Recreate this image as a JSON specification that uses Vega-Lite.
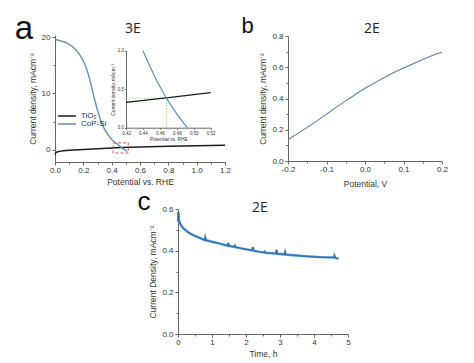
{
  "$schema": "https://vega.github.io/schema/vega-lite/v6.json",
  "width": 474,
  "height": 363,
  "autosize": "none",
  "padding": 0,
  "background": "white",
  "config": {
    "view": {"stroke": null},
    "axis": {
      "grid": false,
      "labelFont": "Liberation Sans",
      "labelFontSize": 8,
      "labelColor": "#333333",
      "titleFont": "Liberation Sans",
      "titleFontSize": 8.5,
      "titleFontWeight": "normal",
      "titleColor": "#333333",
      "domainColor": "#666666",
      "tickColor": "#666666",
      "tickSize": 3,
      "labelPadding": 2,
      "titlePadding": 4,
      "labelFlush": false,
      "labelOverlap": false
    }
  },
  "datasets": {
    "sweepA": [
      {"series": "TiO₂", "x": 0.0, "y": -0.9},
      {"series": "TiO₂", "x": 0.005, "y": -0.6},
      {"series": "TiO₂", "x": 0.015, "y": -0.42},
      {"series": "TiO₂", "x": 0.03, "y": -0.3},
      {"series": "TiO₂", "x": 0.06, "y": -0.2},
      {"series": "TiO₂", "x": 0.1, "y": -0.12},
      {"series": "TiO₂", "x": 0.2, "y": 0.03},
      {"series": "TiO₂", "x": 0.3, "y": 0.16},
      {"series": "TiO₂", "x": 0.4, "y": 0.28},
      {"series": "TiO₂", "x": 0.47, "y": 0.37},
      {"series": "TiO₂", "x": 0.6, "y": 0.47},
      {"series": "TiO₂", "x": 0.8, "y": 0.6},
      {"series": "TiO₂", "x": 1.0, "y": 0.7},
      {"series": "TiO₂", "x": 1.2, "y": 0.78},
      {"series": "CoP-Si", "x": 0.0, "y": 19.6},
      {"series": "CoP-Si", "x": 0.03, "y": 19.45},
      {"series": "CoP-Si", "x": 0.06, "y": 19.2},
      {"series": "CoP-Si", "x": 0.09, "y": 18.9},
      {"series": "CoP-Si", "x": 0.12, "y": 18.4},
      {"series": "CoP-Si", "x": 0.15, "y": 17.7},
      {"series": "CoP-Si", "x": 0.18, "y": 16.7},
      {"series": "CoP-Si", "x": 0.2, "y": 15.8},
      {"series": "CoP-Si", "x": 0.22, "y": 14.6},
      {"series": "CoP-Si", "x": 0.24, "y": 13.0},
      {"series": "CoP-Si", "x": 0.26, "y": 11.0},
      {"series": "CoP-Si", "x": 0.28, "y": 8.9},
      {"series": "CoP-Si", "x": 0.3, "y": 7.0},
      {"series": "CoP-Si", "x": 0.32, "y": 5.4},
      {"series": "CoP-Si", "x": 0.34, "y": 4.1},
      {"series": "CoP-Si", "x": 0.36, "y": 3.2},
      {"series": "CoP-Si", "x": 0.38, "y": 2.4},
      {"series": "CoP-Si", "x": 0.4, "y": 1.8},
      {"series": "CoP-Si", "x": 0.42, "y": 1.35},
      {"series": "CoP-Si", "x": 0.44, "y": 1.0},
      {"series": "CoP-Si", "x": 0.46, "y": 0.53},
      {"series": "CoP-Si", "x": 0.48, "y": 0.18},
      {"series": "CoP-Si", "x": 0.5, "y": -0.15},
      {"series": "CoP-Si", "x": 0.51, "y": -0.3}
    ],
    "zoomA": [
      {"series": "TiO₂", "x": 0.42, "y": 0.33},
      {"series": "TiO₂", "x": 0.47, "y": 0.39},
      {"series": "TiO₂", "x": 0.52, "y": 0.455},
      {"series": "CoP-Si", "x": 0.44, "y": 1.0},
      {"series": "CoP-Si", "x": 0.445, "y": 0.875},
      {"series": "CoP-Si", "x": 0.45, "y": 0.755},
      {"series": "CoP-Si", "x": 0.455, "y": 0.64},
      {"series": "CoP-Si", "x": 0.46, "y": 0.535},
      {"series": "CoP-Si", "x": 0.465, "y": 0.435},
      {"series": "CoP-Si", "x": 0.47, "y": 0.345},
      {"series": "CoP-Si", "x": 0.475, "y": 0.26},
      {"series": "CoP-Si", "x": 0.48, "y": 0.18},
      {"series": "CoP-Si", "x": 0.485, "y": 0.105},
      {"series": "CoP-Si", "x": 0.49, "y": 0.035},
      {"series": "CoP-Si", "x": 0.4925, "y": 0.0}
    ],
    "sweepB": [
      {"x": -0.2, "y": 0.138},
      {"x": -0.175, "y": 0.175},
      {"x": -0.15, "y": 0.215},
      {"x": -0.125, "y": 0.257},
      {"x": -0.1, "y": 0.3},
      {"x": -0.075, "y": 0.343},
      {"x": -0.05, "y": 0.385},
      {"x": -0.025, "y": 0.426},
      {"x": 0.0, "y": 0.465},
      {"x": 0.025, "y": 0.5},
      {"x": 0.05, "y": 0.535},
      {"x": 0.075, "y": 0.566},
      {"x": 0.1, "y": 0.595},
      {"x": 0.125, "y": 0.623},
      {"x": 0.15, "y": 0.65},
      {"x": 0.175, "y": 0.675},
      {"x": 0.2, "y": 0.698}
    ],
    "stabilityC": [
      {"x": 0.0, "y": 0.54},
      {"x": 0.01, "y": 0.585},
      {"x": 0.03, "y": 0.545},
      {"x": 0.08, "y": 0.525},
      {"x": 0.16, "y": 0.507},
      {"x": 0.25, "y": 0.494},
      {"x": 0.35, "y": 0.483},
      {"x": 0.45, "y": 0.475},
      {"x": 0.6, "y": 0.464},
      {"x": 0.78, "y": 0.451},
      {"x": 0.8, "y": 0.463},
      {"x": 0.82, "y": 0.45},
      {"x": 1.0, "y": 0.443},
      {"x": 1.2, "y": 0.435},
      {"x": 1.46, "y": 0.424},
      {"x": 1.48, "y": 0.437},
      {"x": 1.5, "y": 0.423},
      {"x": 1.65, "y": 0.418},
      {"x": 1.67, "y": 0.424},
      {"x": 1.69, "y": 0.417},
      {"x": 1.9, "y": 0.41},
      {"x": 2.18, "y": 0.401},
      {"x": 2.2, "y": 0.417},
      {"x": 2.22, "y": 0.4},
      {"x": 2.4, "y": 0.394},
      {"x": 2.53, "y": 0.391},
      {"x": 2.55, "y": 0.395},
      {"x": 2.57, "y": 0.39},
      {"x": 2.88, "y": 0.386},
      {"x": 2.9, "y": 0.403},
      {"x": 2.92, "y": 0.385},
      {"x": 3.13, "y": 0.382},
      {"x": 3.15, "y": 0.393},
      {"x": 3.17, "y": 0.381},
      {"x": 3.4, "y": 0.378},
      {"x": 3.7, "y": 0.374},
      {"x": 4.0, "y": 0.371},
      {"x": 4.2, "y": 0.369},
      {"x": 4.4, "y": 0.368},
      {"x": 4.58, "y": 0.367},
      {"x": 4.6, "y": 0.376},
      {"x": 4.62, "y": 0.366},
      {"x": 4.72, "y": 0.361}
    ]
  },
  "resolve": {
    "scale": {"x": "independent", "y": "independent"},
    "axis": {"x": "independent", "y": "independent"}
  },
  "layer": [
    {
      "encoding": {
        "x": {
          "field": "x", "type": "quantitative",
          "scale": {"domain": [0, 1.2], "range": [55, 225], "nice": false, "zero": false},
          "axis": {"orient": "bottom", "offset": -201, "values": [0.1, 0.3, 0.5, 0.7, 0.9, 1.1], "labels": false, "domain": false, "tickSize": 2, "title": null}
        },
        "y": {
          "field": "y", "type": "quantitative",
          "scale": {"domain": [-2.2, 20.4], "range": [162, 35], "nice": false, "zero": false},
          "axis": {"orient": "left", "offset": -55, "values": [5, 15], "labels": false, "domain": false, "tickSize": 2, "title": null}
        }
      },
      "data": {"name": "sweepA"},
      "mark": {"type": "point", "opacity": 0}
    },
    {
      "encoding": {
        "x": {
          "field": "x", "type": "quantitative",
          "scale": {"domain": [0, 1.2], "range": [55, 225], "nice": false, "zero": false},
          "axis": {"orient": "bottom", "offset": -201, "values": [0, 0.2, 0.4, 0.6, 0.8, 1.0, 1.2], "format": ".1f", "title": "Potential vs. RHE", "labelPadding": 1, "titlePadding": 3}
        },
        "y": {
          "field": "y", "type": "quantitative",
          "scale": {"domain": [-2.2, 20.4], "range": [162, 35], "nice": false, "zero": false},
          "axis": {"orient": "left", "offset": -55, "values": [0, 10, 20], "title": "Current density, mAcm⁻²"}
        }
      },
      "layer": [
        {
          "data": {"name": "sweepA"},
          "mark": {"type": "line", "strokeWidth": 1.4},
          "encoding": {
            "color": {
              "field": "series", "type": "nominal",
              "scale": {"domain": ["TiO₂", "CoP-Si"], "range": ["#1c1c1c", "#5b8fbc"]},
              "legend": {
                "orient": "none", "legendX": 57, "legendY": 112, "title": null,
                "symbolType": "stroke", "symbolSize": 324, "symbolStrokeWidth": 1.6,
                "clipHeight": 8, "rowPadding": 0, "padding": 0,
                "labelFont": "Liberation Sans", "labelFontSize": 8, "labelColor": "#333333", "labelOffset": 4
              }
            }
          }
        },
        {
          "data": {"values": [{"x": 0.41, "x2": 0.517, "y": -0.6, "y2": 1.2}]},
          "mark": {"type": "rect", "fill": null, "stroke": "#d0464a", "strokeWidth": 0.9, "strokeDash": [3, 2]},
          "encoding": {"x2": {"field": "x2"}, "y2": {"field": "y2"}}
        },
        {
          "data": {"values": [{"x": -0.219, "y": 19.64, "label": "a"}]},
          "mark": {"type": "text", "font": "Liberation Sans", "fontSize": 33, "align": "center", "baseline": "alphabetic", "color": "#111111"},
          "encoding": {"text": {"field": "label"}}
        },
        {
          "data": {"values": [{"x": 0.55, "y": 20.81, "label": "3E"}]},
          "mark": {"type": "text", "font": "Open Sans", "fontSize": 14, "align": "center", "baseline": "alphabetic", "color": "#222222"},
          "encoding": {"text": {"field": "label"}}
        }
      ]
    },
    {
      "encoding": {
        "x": {
          "field": "x", "type": "quantitative",
          "scale": {"domain": [0.42, 0.52], "range": [126, 210.7], "nice": false, "zero": false},
          "axis": {"orient": "bottom", "offset": -235.3, "values": [0.42, 0.44, 0.46, 0.48, 0.5, 0.52], "format": ".2f", "title": "Potential vs. RHE", "labelFontSize": 4.5, "titleFontSize": 4.8, "tickSize": 1.5, "labelPadding": 1, "titlePadding": 2}
        },
        "y": {
          "field": "y", "type": "quantitative",
          "scale": {"domain": [0, 1], "range": [127.7, 50.7], "nice": false, "zero": false},
          "axis": {"orient": "left", "offset": -126, "values": [0, 0.5, 1], "format": ".1f", "title": "Current density, mAcm⁻²", "labelFontSize": 4.5, "titleFontSize": 4.8, "tickSize": 1.5, "labelPadding": 1, "titlePadding": 2}
        }
      },
      "layer": [
        {
          "data": {"values": [
            {"x": 0.42, "y": 0.385, "x2": 0.468, "y2": 0.385},
            {"x": 0.468, "y": 0.0, "x2": 0.468, "y2": 0.385}
          ]},
          "mark": {"type": "rule", "color": "#8ccf6a", "strokeWidth": 0.8, "strokeDash": [1.5, 1.5]},
          "encoding": {"x2": {"field": "x2"}, "y2": {"field": "y2"}}
        },
        {
          "data": {"name": "zoomA"},
          "mark": {"type": "line", "strokeWidth": 1.2},
          "encoding": {"color": {"field": "series", "type": "nominal"}}
        }
      ]
    },
    {
      "encoding": {
        "x": {
          "field": "x", "type": "quantitative",
          "scale": {"domain": [-0.2, 0.2], "range": [288, 442], "nice": false, "zero": false},
          "axis": {"orient": "bottom", "offset": -202, "values": [-0.15, -0.05, 0.05, 0.15], "labels": false, "domain": false, "tickSize": 2, "title": null}
        },
        "y": {
          "field": "y", "type": "quantitative",
          "scale": {"domain": [0, 0.8], "range": [161, 36], "nice": false, "zero": false},
          "axis": {"orient": "left", "offset": -288, "values": [0.1, 0.3, 0.5, 0.7], "labels": false, "domain": false, "tickSize": 2, "title": null}
        }
      },
      "data": {"name": "sweepB"},
      "mark": {"type": "point", "opacity": 0}
    },
    {
      "encoding": {
        "x": {
          "field": "x", "type": "quantitative",
          "scale": {"domain": [-0.2, 0.2], "range": [288, 442], "nice": false, "zero": false},
          "axis": {"orient": "bottom", "offset": -202, "values": [-0.2, -0.1, 0, 0.1, 0.2], "format": ".1f", "labelExpr": "replace(datum.label, '−', '-')", "title": "Potential, V", "labelPadding": 1, "titlePadding": 6}
        },
        "y": {
          "field": "y", "type": "quantitative",
          "scale": {"domain": [0, 0.8], "range": [161, 36], "nice": false, "zero": false},
          "axis": {"orient": "left", "offset": -288, "values": [0, 0.2, 0.4, 0.6, 0.8], "format": ".1f", "title": "Current density, mAcm⁻²"}
        }
      },
      "layer": [
        {
          "data": {"name": "sweepB"},
          "mark": {"type": "line", "color": "#4f82ad", "strokeWidth": 1.1}
        },
        {
          "data": {"values": [{"x": -0.305, "y": 0.817, "label": "b"}]},
          "mark": {"type": "text", "font": "Liberation Sans", "fontSize": 22, "align": "center", "baseline": "alphabetic", "color": "#111111"},
          "encoding": {"text": {"field": "label"}}
        },
        {
          "data": {"values": [{"x": 0.018, "y": 0.821, "label": "2E"}]},
          "mark": {"type": "text", "font": "Open Sans", "fontSize": 14, "align": "center", "baseline": "alphabetic", "color": "#222222"},
          "encoding": {"text": {"field": "label"}}
        }
      ]
    },
    {
      "encoding": {
        "x": {
          "field": "x", "type": "quantitative",
          "scale": {"domain": [0, 5], "range": [178, 348], "nice": false, "zero": false},
          "axis": {"orient": "bottom", "offset": -29, "values": [0.5, 1.5, 2.5, 3.5, 4.5], "labels": false, "domain": false, "tickSize": 2, "title": null}
        },
        "y": {
          "field": "y", "type": "quantitative",
          "scale": {"domain": [0, 0.6], "range": [334, 209], "nice": false, "zero": false},
          "axis": {"orient": "left", "offset": -178, "values": [0.1, 0.3, 0.5], "labels": false, "domain": false, "tickSize": 2, "title": null}
        }
      },
      "data": {"name": "stabilityC"},
      "mark": {"type": "point", "opacity": 0}
    },
    {
      "encoding": {
        "x": {
          "field": "x", "type": "quantitative",
          "scale": {"domain": [0, 5], "range": [178, 348], "nice": false, "zero": false},
          "axis": {"orient": "bottom", "offset": -29, "values": [0, 1, 2, 3, 4, 5], "format": "d", "title": "Time, h", "labelPadding": 1, "titlePadding": 3}
        },
        "y": {
          "field": "y", "type": "quantitative",
          "scale": {"domain": [0, 0.6], "range": [334, 209], "nice": false, "zero": false},
          "axis": {"orient": "left", "offset": -178, "values": [0, 0.2, 0.4, 0.6], "format": ".1f", "title": "Current Density, mAcm⁻²"}
        }
      },
      "layer": [
        {
          "data": {"name": "stabilityC"},
          "mark": {"type": "line", "color": "#4a92d4", "strokeWidth": 2.4}
        },
        {
          "data": {"name": "stabilityC"},
          "mark": {"type": "line", "color": "#2b5c8c", "strokeWidth": 0.7}
        },
        {
          "data": {"values": [{"x": -1.0, "y": 0.595, "label": "c"}]},
          "mark": {"type": "text", "font": "Liberation Sans", "fontSize": 26, "align": "center", "baseline": "alphabetic", "color": "#111111"},
          "encoding": {"text": {"field": "label"}}
        },
        {
          "data": {"values": [{"x": 2.41, "y": 0.587, "label": "2E"}]},
          "mark": {"type": "text", "font": "Open Sans", "fontSize": 14, "align": "center", "baseline": "alphabetic", "color": "#222222"},
          "encoding": {"text": {"field": "label"}}
        }
      ]
    }
  ]
}
